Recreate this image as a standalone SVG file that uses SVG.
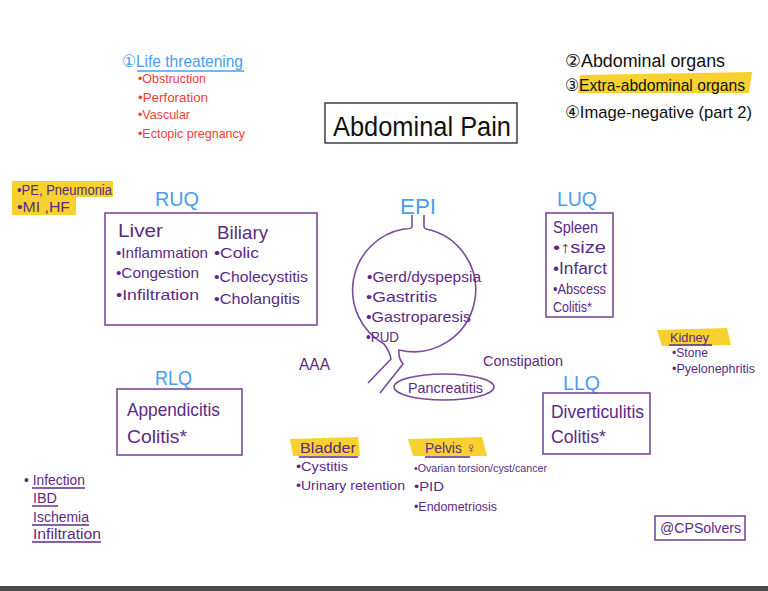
<svg xmlns="http://www.w3.org/2000/svg" width="768" height="591" viewBox="0 0 768 591">
<defs>
<style>
text{font-family:"Liberation Sans","DejaVu Sans",sans-serif;}
.p{fill:#5b2a86;}
.b{fill:#4a9cf0;}
.r{fill:#ee3d3a;}
.k{fill:#111;}
.box{fill:none;stroke:#7a4a9e;stroke-width:1.6;}
.hl{fill:#f7d12e;}
.ul{stroke-width:1.4;fill:none;}
</style>
</defs>
<rect width="768" height="591" fill="#fff"/>

<g id="life-threatening">
<text x="122" y="67" class="b" font-size="17" textLength="121" lengthAdjust="spacingAndGlyphs">①Life threatening</text>
<line x1="137" y1="71" x2="244" y2="71" stroke="#4a9cf0" class="ul"/>
<text x="138" y="83" class="r" font-size="13" textLength="68" lengthAdjust="spacingAndGlyphs">•Obstruction</text>
<text x="138" y="102" class="r" font-size="13" textLength="70" lengthAdjust="spacingAndGlyphs">•Perforation</text>
<text x="138" y="119" class="r" font-size="13" textLength="52" lengthAdjust="spacingAndGlyphs">•Vascular</text>
<text x="138" y="138" class="r" font-size="13" textLength="107" lengthAdjust="spacingAndGlyphs">•Ectopic pregnancy</text>
</g>

<g id="legend">
<text x="565" y="67" class="k" font-size="18" textLength="160" lengthAdjust="spacingAndGlyphs">②Abdominal organs</text>
<polygon points="580,75 752,72 749,93 578,93" class="hl"/>
<text x="565" y="91" class="k" font-size="17" textLength="180" lengthAdjust="spacingAndGlyphs">③Extra-abdominal organs</text>
<text x="565" y="118" class="k" font-size="17" textLength="187" lengthAdjust="spacingAndGlyphs">④Image-negative (part 2)</text>
</g>

<g id="title">
<rect x="325" y="103" width="192" height="40" fill="none" stroke="#333" stroke-width="1.4"/>
<text x="333" y="136" class="k" font-size="27" textLength="178" lengthAdjust="spacingAndGlyphs">Abdominal Pain</text>
</g>

<g id="extra-chest">
<rect x="12" y="181" width="101" height="16" class="hl"/>
<rect x="12" y="197" width="64" height="18" class="hl"/>
<text x="17" y="195" class="p" font-size="14" textLength="95" lengthAdjust="spacingAndGlyphs">•PE, Pneumonia</text>
<text x="17" y="212" class="p" font-size="14" textLength="53" lengthAdjust="spacingAndGlyphs">•MI ,HF</text>
</g>

<g id="ruq">
<text x="155" y="206" class="b" font-size="21" textLength="44" lengthAdjust="spacingAndGlyphs">RUQ</text>
<rect x="105" y="213" width="212" height="112" class="box"/>
<text x="118" y="237" class="p" font-size="19" textLength="45" lengthAdjust="spacingAndGlyphs">Liver</text>
<text x="217" y="239" class="p" font-size="19" textLength="51" lengthAdjust="spacingAndGlyphs">Biliary</text>
<text x="116" y="258" class="p" font-size="15" textLength="92" lengthAdjust="spacingAndGlyphs">•Inflammation</text>
<text x="116" y="278" class="p" font-size="15" textLength="83" lengthAdjust="spacingAndGlyphs">•Congestion</text>
<text x="116" y="300" class="p" font-size="15" textLength="83" lengthAdjust="spacingAndGlyphs">•Infiltration</text>
<text x="214" y="258" class="p" font-size="15" textLength="45" lengthAdjust="spacingAndGlyphs">•Colic</text>
<text x="214" y="282" class="p" font-size="15" textLength="94" lengthAdjust="spacingAndGlyphs">•Cholecystitis</text>
<text x="214" y="304" class="p" font-size="15" textLength="86" lengthAdjust="spacingAndGlyphs">•Cholangitis</text>
</g>

<g id="epi">
<text x="400" y="214" class="b" font-size="22" textLength="36" lengthAdjust="spacingAndGlyphs">EPI</text>
<path d="M412,215 L412,227 Q411,229 404,229 A62,62 0 0 0 384,344 Q390,352 391,359 L368,383" fill="none" stroke="#7a4a9e" stroke-width="1.6"/>
<path d="M424,215 L424,227 Q425,229 426,229 A62,62 0 1 1 399,350 Q398,358 403,364 L380,393" fill="none" stroke="#7a4a9e" stroke-width="1.6"/>
<text x="367" y="282" class="p" font-size="15" textLength="114" lengthAdjust="spacingAndGlyphs">•Gerd/dyspepsia</text>
<text x="366" y="302" class="p" font-size="15" textLength="71" lengthAdjust="spacingAndGlyphs">•Gastritis</text>
<text x="366" y="322" class="p" font-size="15" textLength="105" lengthAdjust="spacingAndGlyphs">•Gastroparesis</text>
<text x="366" y="342" class="p" font-size="15" textLength="33" lengthAdjust="spacingAndGlyphs">•PUD</text>
</g>

<g id="pancreatitis">
<ellipse cx="444" cy="387" rx="50" ry="13" class="box"/>
<text x="408" y="393" class="p" font-size="15" textLength="75" lengthAdjust="spacingAndGlyphs">Pancreatitis</text>
</g>

<g id="constipation">
<text x="483" y="366" class="p" font-size="15" textLength="80" lengthAdjust="spacingAndGlyphs">Constipation</text>
</g>

<g id="aaa">
<text x="299" y="370" class="p" font-size="17" textLength="31" lengthAdjust="spacingAndGlyphs">AAA</text>
</g>

<g id="luq">
<text x="557" y="206" class="b" font-size="21" textLength="40" lengthAdjust="spacingAndGlyphs">LUQ</text>
<rect x="546" y="213" width="67" height="104" class="box"/>
<text x="553" y="233" class="p" font-size="16" textLength="45" lengthAdjust="spacingAndGlyphs">Spleen</text>
<text x="553" y="253" class="p" font-size="16" textLength="53" lengthAdjust="spacingAndGlyphs">•↑size</text>
<text x="553" y="274" class="p" font-size="16" textLength="54" lengthAdjust="spacingAndGlyphs">•Infarct</text>
<text x="553" y="294" class="p" font-size="15" textLength="53" lengthAdjust="spacingAndGlyphs">•Abscess</text>
<text x="553" y="312" class="p" font-size="14" textLength="39" lengthAdjust="spacingAndGlyphs">Colitis*</text>
</g>

<g id="kidney">
<polygon points="657,330 727,328 731,345 662,346" class="hl"/>
<text x="670" y="342" class="p" font-size="13" textLength="39" lengthAdjust="spacingAndGlyphs">Kidney</text>
<line x1="669" y1="345" x2="712" y2="345" stroke="#5b2a86" class="ul"/>
<text x="672" y="357" class="p" font-size="12" textLength="36" lengthAdjust="spacingAndGlyphs">•Stone</text>
<text x="672" y="373" class="p" font-size="12" textLength="83" lengthAdjust="spacingAndGlyphs">•Pyelonephritis</text>
</g>

<g id="rlq">
<text x="155" y="385" class="b" font-size="21" textLength="37" lengthAdjust="spacingAndGlyphs">RLQ</text>
<rect x="117" y="389" width="125" height="66" class="box"/>
<text x="127" y="416" class="p" font-size="19" textLength="93" lengthAdjust="spacingAndGlyphs">Appendicitis</text>
<text x="127" y="443" class="p" font-size="19" textLength="60" lengthAdjust="spacingAndGlyphs">Colitis*</text>
</g>

<g id="llq">
<text x="563" y="390" class="b" font-size="21" textLength="37" lengthAdjust="spacingAndGlyphs">LLQ</text>
<rect x="543" y="393" width="107" height="61" class="box"/>
<text x="551" y="418" class="p" font-size="18" textLength="93" lengthAdjust="spacingAndGlyphs">Diverticulitis</text>
<text x="551" y="443" class="p" font-size="18" textLength="55" lengthAdjust="spacingAndGlyphs">Colitis*</text>
</g>

<g id="bladder">
<polygon points="290,439 358,437 360,456 293,456" class="hl"/>
<text x="300" y="453" class="p" font-size="15" textLength="56" lengthAdjust="spacingAndGlyphs">Bladder</text>
<line x1="299" y1="457" x2="358" y2="457" stroke="#5b2a86" class="ul"/>
<text x="296" y="471" class="p" font-size="13" textLength="52" lengthAdjust="spacingAndGlyphs">•Cystitis</text>
<text x="296" y="490" class="p" font-size="13" textLength="109" lengthAdjust="spacingAndGlyphs">•Urinary retention</text>
</g>

<g id="pelvis">
<polygon points="408,439 482,437 487,456 413,456" class="hl"/>
<text x="425" y="453" class="p" font-size="15" textLength="51" lengthAdjust="spacingAndGlyphs">Pelvis ♀</text>
<line x1="425" y1="457" x2="470" y2="457" stroke="#5b2a86" class="ul"/>
<text x="414" y="472" class="p" font-size="11" textLength="133" lengthAdjust="spacingAndGlyphs">•Ovarian torsion/cyst/cancer</text>
<text x="414" y="491" class="p" font-size="13" textLength="30" lengthAdjust="spacingAndGlyphs">•PID</text>
<text x="414" y="511" class="p" font-size="13" textLength="83" lengthAdjust="spacingAndGlyphs">•Endometriosis</text>
</g>

<g id="image-negative">
<text x="24" y="485" class="p" font-size="14" textLength="61" lengthAdjust="spacingAndGlyphs">• Infection</text>
<line x1="32" y1="488" x2="85" y2="488" stroke="#5b2a86" class="ul"/>
<text x="33" y="503" class="p" font-size="14" textLength="24" lengthAdjust="spacingAndGlyphs">IBD</text>
<line x1="32" y1="506" x2="58" y2="506" stroke="#5b2a86" class="ul"/>
<text x="33" y="522" class="p" font-size="14" textLength="56" lengthAdjust="spacingAndGlyphs">Ischemia</text>
<line x1="32" y1="525" x2="89" y2="525" stroke="#5b2a86" class="ul"/>
<text x="33" y="539" class="p" font-size="14" textLength="68" lengthAdjust="spacingAndGlyphs">Infiltration</text>
<line x1="32" y1="542" x2="101" y2="542" stroke="#5b2a86" class="ul"/>
</g>

<g id="credit">
<rect x="655" y="516" width="90" height="24" class="box"/>
<text x="660" y="533" class="p" font-size="14" textLength="81" lengthAdjust="spacingAndGlyphs">@CPSolvers</text>
</g>

<g id="connectors">
</g>

<rect x="0" y="586" width="768" height="5" fill="#4a4a4a"/>
</svg>
